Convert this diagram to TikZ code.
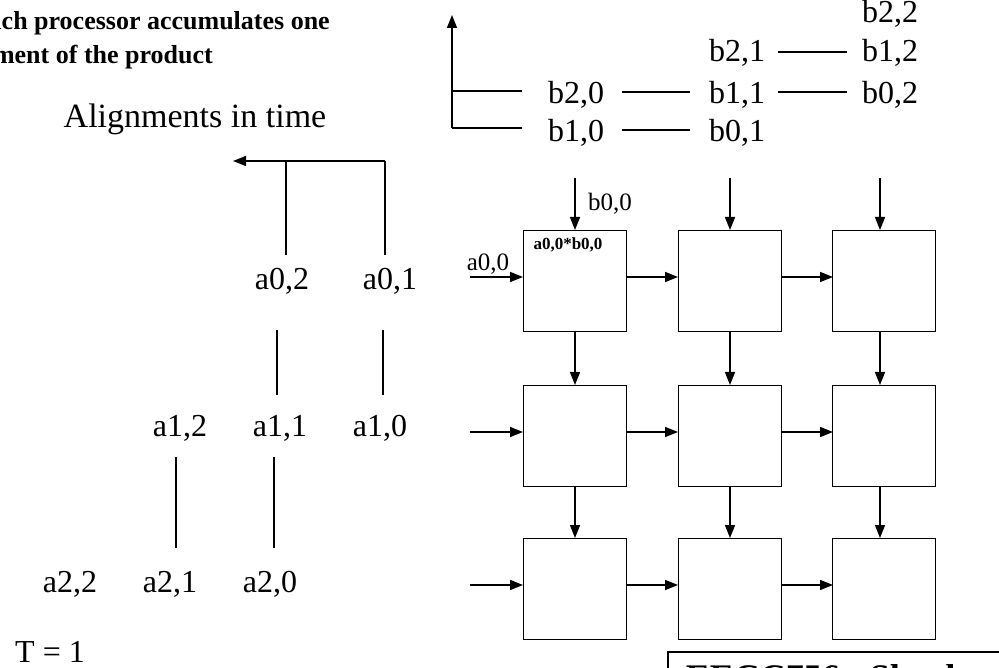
\documentclass[tikz,border=0pt]{standalone}
\usepackage{fontspec}
\setmainfont{Liberation Serif}
\usetikzlibrary{arrows.meta}
\begin{document}
\begin{tikzpicture}[x=1pt,y=-1pt,
  pe/.style={draw,line width=1.6pt,minimum width=103pt,minimum height=101pt,inner sep=0pt},
  lab/.style={font=\fontsize{32}{34}\selectfont,inner sep=0pt},
  sm/.style={font=\fontsize{25}{27}\selectfont,inner sep=0pt},
  ln/.style={line width=1.5pt},
  ar/.style={line width=1.5pt,-{Triangle[length=13pt,width=10pt]}}]
\useasboundingbox (0,0) rectangle (999,668);
\begin{scope}
\clip (0,0) rectangle (999,668);
\node[anchor=east,font=\bfseries\fontsize{26}{28}\selectfont,inner sep=0pt] (t1) at (330,23) {Each processor accumulates one};
\node[anchor=east,font=\bfseries\fontsize{26}{28}\selectfont,inner sep=0pt] (t2) at (213,57) {element of the product};
\node[anchor=north west,draw,line width=1.6pt,font=\bfseries\fontsize{36}{38}\selectfont,inner xsep=18pt,inner ysep=8pt,minimum height=50pt] (foot) at (667,651) {EECC756 - Shaaban};
\end{scope}
\node[font=\fontsize{34}{36}\selectfont,inner sep=0pt] (al) at (195,119) {Alignments in time};
\node[lab] (a02) at (282,281) {a0,2};
\node[lab] (a01) at (390,281) {a0,1};
\node[lab] (a12) at (180,428) {a1,2};
\node[lab] (a11) at (280,428) {a1,1};
\node[lab] (a10) at (380,428) {a1,0};
\node[lab] (a22) at (70,584) {a2,2};
\node[lab] (a21) at (170,584) {a2,1};
\node[lab] (a20) at (270,584) {a2,0};
\node[lab] (T) at (50,652) {T = 1};
\coordinate (tl) at (233,161);
\coordinate (c1) at (286,161);
\coordinate (c2) at (385,161);
\draw[ar] (c2) -- (tl);
\draw[ln] (c1) -- (286,255);
\draw[ln] (c2) -- (385,255);
\draw[ln] (277,330) -- (277,395);
\draw[ln] (383,330) -- (383,395);
\draw[ln] (176,457) -- (176,548);
\draw[ln] (274,457) -- (274,548);
\node[lab] (b10) at (576,133) {b1,0};
\node[lab] (b01) at (737,133) {b0,1};
\node[lab] (b20) at (576,95) {b2,0};
\node[lab] (b11) at (737,95) {b1,1};
\node[lab] (b02) at (890,95) {b0,2};
\node[lab] (b21) at (737,53) {b2,1};
\node[lab] (b12) at (890,53) {b1,2};
\node[lab] (b22) at (890,14) {b2,2};
\coordinate (o) at (452,128);
\draw[ar] (o) -- (452,15);
\draw[ln] (o) -- (522,128);
\draw[ln] (452,91) -- (522,91);
\draw[ln] (622,130) -- (690,130);
\draw[ln] (622,92) -- (690,92);
\draw[ln] (778,92) -- (847,92);
\draw[ln] (778,52) -- (847,52);
\foreach \c/\x in {1/575,2/730,3/884}{
  \foreach \r/\y in {1/281,2/436,3/589}{
    \node[pe] (p\r\c) at (\x,\y) {};
  }
}
\foreach \c/\x in {1/575,2/730,3/880}{
  \draw[ar] (\x,178) -- (\x,230);
  \draw[ar] (\x,331) -- (\x,385);
  \draw[ar] (\x,486) -- (\x,538);
}
\foreach \y in {277,432,585}{
  \draw[ar] (470,\y) -- (523,\y);
  \draw[ar] (627,\y) -- (678,\y);
  \draw[ar] (781,\y) -- (833,\y);
}
\node[sm] (b00) at (610,204) {b0,0};
\node[sm] (a00) at (488,264) {a0,0};
\node[font=\bfseries\fontsize{17}{19}\selectfont,inner sep=0pt] (prod) at (568,245) {a0,0*b0,0};
\end{tikzpicture}
\end{document}
